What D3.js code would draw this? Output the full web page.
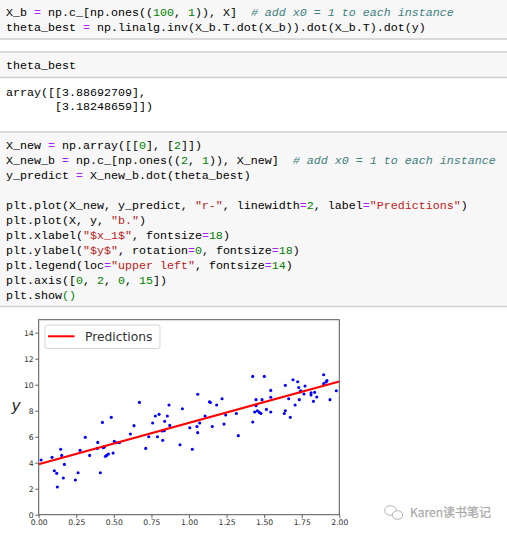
<!DOCTYPE html>
<html>
<head>
<meta charset="utf-8">
<script src="https://cdn.jsdelivr.net/npm/d3@7"></script>
<style>
  html, body { margin: 0; padding: 0; background: #fff; }
  svg { display: block; }
</style>
</head>
<body>
<svg id="page" width="507" height="535"></svg>
<script>
// ---------------- DATA ----------------
const xValues = [
  0.016,0.089,0.146,0.153,0.104,0.120,0.124,0.171,0.164,0.244,
  0.262,0.275,0.310,0.339,0.393,0.390,0.410,0.424,0.430,0.437,
  0.444,0.452,0.464,0.483,0.495,0.503,0.517,0.537,0.610,0.634,
  0.670,0.712,0.732,0.758,0.776,0.790,0.801,0.821,0.825,0.836,
  0.838,0.856,0.867,0.872,0.940,0.956,1.005,1.022,1.058,1.053,
  1.071,1.058,1.107,1.136,1.142,1.155,1.184,1.220,1.233,1.244,
  1.315,1.328,1.424,1.424,1.446,1.501,1.446,1.437,1.455,1.468,
  1.479,1.486,1.515,1.544,1.544,1.544,1.634,1.641,1.641,1.663,
  1.674,1.692,1.706,1.723,1.730,1.734,1.739,1.743,1.765,1.772,
  1.812,1.812,1.828,1.836,1.850,1.896,1.896,1.912,1.918,1.938,
  1.980
];
const yValues = [
  4.21,4.41,5.03,4.56,3.38,3.18,2.13,3.87,2.82,2.67,
  3.23,4.95,5.95,4.56,5.56,5.10,3.23,7.10,5.15,5.21,
  4.49,4.56,4.67,7.49,4.74,5.64,5.54,5.54,6.21,6.85,
  8.64,5.10,6.00,7.05,7.59,6.00,7.72,6.44,5.72,6.46,
  7.18,7.59,8.44,6.87,5.38,8.15,6.69,5.03,9.26,6.79,
  7.05,6.31,7.59,8.69,8.64,6.79,8.44,8.92,6.97,7.67,
  7.79,6.08,10.64,7.13,8.85,10.64,8.38,7.90,8.00,7.87,
  7.79,8.85,8.10,9.56,9.03,7.90,7.79,8.00,9.95,8.92,
  7.49,10.38,8.44,10.23,9.79,8.85,9.44,9.54,9.28,9.90,
  9.38,9.21,8.72,9.41,9.05,10.77,10.08,10.21,10.31,8.85,
  9.54
];
const theta = [3.88692709, 3.18248659];
const xNew = [0, 2];
const yPredict = xNew.map(v => theta[0] + theta[1] * v);
const xTicks = [0, 0.25, 0.5, 0.75, 1.0, 1.25, 1.5, 1.75, 2.0];
const yTicks = [0, 2, 4, 6, 8, 10, 12, 14];
const axisLimits = [0, 2, 0, 15];
const legendLabel = "Predictions";
const yLabel = "y";
const watermark = "Karen读书笔记";

// code cells: each line is a list of [text, tokenType]
const cell1 = [
  [["X_b ","t"],["=","o"],[" np.c_[np.ones((","t"],["100","n"],[", ","t"],["1","n"],[")), X]  ","t"],["# add x0 = 1 to each instance","c"]],
  [["theta_best ","t"],["=","o"],[" np.linalg.inv(X_b.T.dot(X_b)).dot(X_b.T).dot(y)","t"]]
];
const cell2 = [[["theta_best","t"]]];
const out2 = [[["array([[3.88692709],","t"]],[["       [3.18248659]])","t"]]];
const cell3 = [
  [["X_new ","t"],["=","o"],[" np.array([[","t"],["0","n"],["], [","t"],["2","n"],["]])","t"]],
  [["X_new_b ","t"],["=","o"],[" np.c_[np.ones((","t"],["2","n"],[", ","t"],["1","n"],[")), X_new]  ","t"],["# add x0 = 1 to each instance","c"]],
  [["y_predict ","t"],["=","o"],[" X_new_b.dot(theta_best)","t"]],
  [],
  [["plt.plot(X_new, y_predict, ","t"],["\"r-\"","s"],[", linewidth","t"],["=","o"],["2","n"],[", label","t"],["=","o"],["\"Predictions\"","s"],[")","t"]],
  [["plt.plot(X, y, ","t"],["\"b.\"","s"],[")","t"]],
  [["plt.xlabel(","t"],["\"$x_1$\"","s"],[", fontsize","t"],["=","o"],["18","n"],[")","t"]],
  [["plt.ylabel(","t"],["\"$y$\"","s"],[", rotation","t"],["=","o"],["0","n"],[", fontsize","t"],["=","o"],["18","n"],[")","t"]],
  [["plt.legend(loc","t"],["=","o"],["\"upper left\"","s"],[", fontsize","t"],["=","o"],["14","n"],[")","t"]],
  [["plt.axis([","t"],["0","n"],[", ","t"],["2","n"],[", ","t"],["0","n"],[", ","t"],["15","n"],["])","t"]],
  [["plt.show","t"],["()","n"]]
];

// ---------------- DRAW ----------------
const svg = d3.select("#page");
const W = 507, H = 535;
svg.append("rect").attr("width", W).attr("height", H).attr("fill", "#fff");

const tokenColor = { t: "#000", o: "#aa22ff", n: "#008000", s: "#ba2121", c: "#408080" };
const codeFont = "'Liberation Mono', 'DejaVu Sans Mono', monospace";

function cellBox(y0, y1) {
  svg.append("rect").attr("x", -1).attr("y", y0).attr("width", W + 2).attr("height", y1 - y0)
    .attr("fill", "#f7f7f7");
  svg.append("line").attr("x1", 0).attr("x2", W).attr("y1", y0 + 0.5).attr("y2", y0 + 0.5)
    .attr("stroke", "#cfcfcf").attr("stroke-width", 1.5);
  svg.append("line").attr("x1", 0).attr("x2", W).attr("y1", y1 - 0.5).attr("y2", y1 - 0.5)
    .attr("stroke", "#cfcfcf").attr("stroke-width", 1.5);
}
function codeLines(lines, centers) {
  lines.forEach((line, i) => {
    if (!line.length) return;
    const t = svg.append("text").attr("x", 6).attr("y", centers[i] + 4)
      .attr("font-family", codeFont).attr("font-size", 11.67).attr("xml:space", "preserve")
      .style("white-space", "pre");
    line.forEach(([txt, type]) => {
      t.append("tspan").text(txt).attr("fill", tokenColor[type])
        .attr("font-style", type === "c" ? "italic" : null);
    });
  });
}

cellBox(-2, 39.5);
codeLines(cell1, [12.3, 26.7]);
cellBox(51.5, 78);
codeLines(cell2, [65]);
codeLines(out2, [91.7, 106]);
cellBox(131.5, 307);
codeLines(cell3, [145, 160, 175, 190, 205, 220, 235, 250, 265, 280, 295]);

// ---------------- PLOT ----------------
const plot = { left: 38.7, right: 339.3, top: 319.7, bottom: 514.7 };
const x = d3.scaleLinear().domain([axisLimits[0], axisLimits[1]]).range([plot.left, plot.right]);
const y = d3.scaleLinear().domain([axisLimits[2], axisLimits[3]]).range([plot.bottom, plot.top]);

const g = svg.append("g");
const tickFont = "'DejaVu Sans', sans-serif";

// Axes
const xAxis = g.append("g").attr("transform", `translate(0,${plot.bottom})`)
  .call(d3.axisBottom(x).tickValues(xTicks).tickFormat(d3.format(".2f")).tickSize(3.5).tickPadding(1.5));
const yAxis = g.append("g").attr("transform", `translate(${plot.left},0)`)
  .call(d3.axisLeft(y).tickValues(yTicks).tickFormat(d3.format("d")).tickSize(3.5).tickPadding(1.5));
[xAxis, yAxis].forEach(a => {
  a.select(".domain").remove();
  a.selectAll(".tick line").attr("stroke", "#555").attr("stroke-width", 0.9);
  a.selectAll(".tick text").attr("fill", "#333").attr("font-family", tickFont).attr("font-size", 7.7);
});

// points
g.append("g").selectAll("circle").data(xValues.map((v, i) => [v, yValues[i]])).join("circle")
  .attr("cx", d => x(d[0])).attr("cy", d => y(d[1])).attr("r", 1.55).attr("fill", "#0000ff");

// prediction line
g.append("path").datum(xNew.map((v, i) => [v, yPredict[i]]))
  .attr("d", d3.line().x(d => x(d[0])).y(d => y(d[1])))
  .attr("fill", "none").attr("stroke", "#ff0000").attr("stroke-width", 2);

// frame
g.append("rect").attr("x", plot.left).attr("y", plot.top)
  .attr("width", plot.right - plot.left).attr("height", plot.bottom - plot.top)
  .attr("fill", "none").attr("stroke", "#555").attr("stroke-width", 1);

// y label
g.append("text").attr("x", 16).attr("y", 410.5).attr("text-anchor", "middle")
  .attr("font-family", tickFont).attr("font-style", "italic").attr("font-size", 15.5)
  .attr("fill", "#222").text(yLabel);

// legend
const lg = g.append("g");
lg.append("rect").attr("x", 45).attr("y", 325).attr("width", 115).attr("height", 23.5)
  .attr("rx", 2.5).attr("fill", "#fff").attr("fill-opacity", 0.85)
  .attr("stroke", "#d0d0d0").attr("stroke-width", 0.9);
lg.append("line").attr("x1", 48).attr("x2", 74.5).attr("y1", 336.3).attr("y2", 336.3)
  .attr("stroke", "#ff0000").attr("stroke-width", 2);
lg.append("text").attr("x", 85).attr("y", 340.7).attr("font-family", tickFont)
  .attr("font-size", 12.3).attr("fill", "#333").text(legendLabel);

// watermark
const wm = svg.append("g").attr("fill", "none").attr("stroke", "#aaa").attr("stroke-width", 0.9);
wm.append("ellipse").attr("cx", 390.5).attr("cy", 510.5).attr("rx", 5.8).attr("ry", 4.8);
wm.append("ellipse").attr("cx", 397.5).attr("cy", 515).attr("rx", 5.2).attr("ry", 4.3).attr("fill", "#fff");
svg.append("text").attr("x", 410).attr("y", 517).attr("font-family", "'Noto Sans CJK SC', 'Noto Sans', sans-serif")
  .attr("font-size", 12).attr("fill", "#b5b5b5").attr("stroke", "#999").attr("stroke-width", 0.25)
  .text(watermark);
</script>
</body>
</html>
